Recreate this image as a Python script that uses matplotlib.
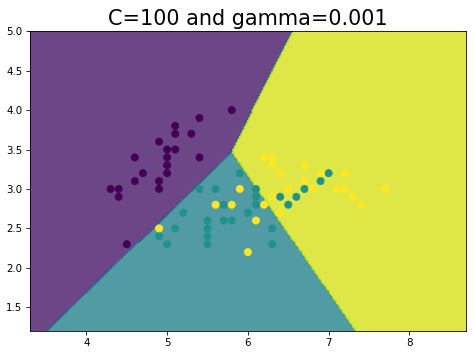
import numpy as np
import matplotlib
matplotlib.use("Agg")
import matplotlib.pyplot as plt

# --- points (sepal length, sepal width) per class ---
setosa_x = [5.8, 5.4, 5.1, 5.1, 5.3, 4.9, 5.0, 5.1, 4.6, 5.0, 5.4, 5.0, 4.7,
            5.0, 4.6, 4.9, 4.3, 4.4, 4.9, 4.4, 4.5]
setosa_y = [4.0, 3.9, 3.8, 3.7, 3.7, 3.6, 3.5, 3.5, 3.4, 3.4, 3.4, 3.3, 3.2,
            3.2, 3.1, 3.1, 3.0, 3.0, 3.0, 2.9, 2.3]

versicolor_x = [5.4, 5.6, 5.9, 5.7, 5.2, 5.5, 5.7, 5.8, 5.5, 5.5, 5.5, 5.1,
                4.9, 5.0, 6.0, 6.1, 6.1, 6.1, 6.4, 6.6, 6.5, 6.7, 6.9, 7.0,
                6.3, 6.3]
versicolor_y = [3.0, 3.0, 3.2, 2.8, 2.7, 2.6, 2.6, 2.6, 2.5, 2.4, 2.3, 2.5,
                2.4, 2.3, 2.7, 3.0, 2.9, 2.8, 2.9, 2.9, 2.8, 3.0, 3.1, 3.2,
                2.5, 2.3]

virginica_x = [5.9, 5.6, 5.8, 6.2, 6.1, 4.9, 6.0, 6.2, 6.3, 6.3, 6.4, 6.7,
               6.9, 7.2, 6.7, 6.5, 6.8, 7.1, 7.2, 7.7, 7.3, 7.4, 6.3, 6.4]
virginica_y = [3.0, 2.8, 2.8, 2.8, 2.6, 2.5, 2.2, 3.4, 3.4, 3.3, 3.2, 3.3,
               3.2, 3.2, 3.1, 3.0, 3.0, 3.0, 3.0, 3.0, 2.9, 2.8, 2.9, 2.7]

# decision boundaries (nearly linear for gamma=0.001): they meet at one point
meet_point = (5.8, 3.47)
edge_01 = (3.51, 1.2)   # setosa / versicolor
edge_02 = (6.55, 5.0)   # setosa / virginica
edge_12 = (7.34, 1.2)   # versicolor / virginica

X = np.column_stack([setosa_x + versicolor_x + virginica_x,
                     setosa_y + versicolor_y + virginica_y])
y = np.array([0] * len(setosa_x) + [1] * len(versicolor_x) + [2] * len(virginica_x))


def side(edge, px, py):
    dx, dy = edge[0] - meet_point[0], edge[1] - meet_point[1]
    return dx * (py - meet_point[1]) - dy * (px - meet_point[0])


def predict(px, py):
    # one-vs-one voting between the three boundaries
    votes = np.zeros(px.shape + (3,))
    s01 = side(edge_01, px, py) < 0
    s02 = side(edge_02, px, py) > 0
    s12 = side(edge_12, px, py) < 0
    votes[..., 0] += s01
    votes[..., 1] += ~s01
    votes[..., 0] += s02
    votes[..., 2] += ~s02
    votes[..., 1] += s12
    votes[..., 2] += ~s12
    return votes.argmax(axis=-1)


h = 0.02
x_min, x_max = X[:, 0].min() - 1, X[:, 0].max() + 1
y_min, y_max = X[:, 1].min() - 1, X[:, 1].max() + 1
xx, yy = np.meshgrid(np.arange(x_min, x_max + h, h),
                     np.arange(y_min, y_max + h, h))
Z = predict(xx, yy)

fig = plt.figure(figsize=(474 / 74, 354 / 74), dpi=74)
ax = fig.add_axes([0.063, 0.065, 0.92, 0.847])
ax.contourf(xx, yy, Z, alpha=0.8)
ax.scatter(X[:, 0], X[:, 1], c=y, s=45)
ax.set_xlim(x_min, x_max)
ax.set_ylim(y_min, y_max)
ax.set_title("C=100 and gamma=0.001", fontsize=20.2)

fig.savefig("out.png", dpi=74)
